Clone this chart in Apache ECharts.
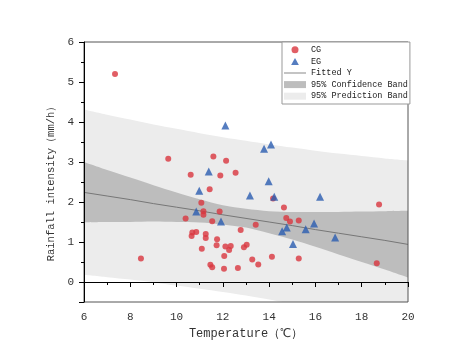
<!DOCTYPE html>
<html><head><meta charset="utf-8">
<script src="https://cdn.jsdelivr.net/npm/echarts@6/dist/echarts.min.js"></script>
<style>html,body{margin:0;padding:0;background:#fff}#c{width:474px;height:362px}</style>
</head><body><div id="c"></div>
<script>
// CG group (red circles)
const cgX = [7.34, 9.64, 11.59, 12.14, 10.61, 11.89, 12.55, 11.43, 11.07, 11.16, 11.16, 11.86, 10.39, 11.54, 12.77, 10.68, 10.85, 10.65, 11.26, 11.26, 11.75, 11.73, 12.11, 12.34, 12.27, 11.09, 12.91, 13.03, 12.06, 8.46, 11.46, 11.54, 12.05, 12.65, 14.17, 18.75, 14.64, 14.74, 14.90, 15.28, 13.42, 13.27, 13.53, 14.12, 15.28, 18.65];
const cgY = [5.20, 3.08, 3.14, 3.03, 2.68, 2.66, 2.73, 2.32, 1.98, 1.77, 1.68, 1.76, 1.59, 1.52, 1.30, 1.24, 1.25, 1.15, 1.20, 1.10, 1.07, 0.92, 0.89, 0.90, 0.80, 0.83, 0.87, 0.93, 0.65, 0.59, 0.43, 0.37, 0.33, 0.35, 2.09, 1.94, 1.86, 1.60, 1.51, 1.54, 1.43, 0.56, 0.44, 0.63, 0.59, 0.47];
// EG group (blue triangles)
const egX = [12.11, 13.78, 14.08, 11.39, 10.98, 13.98, 13.17, 14.22, 16.20, 10.85, 11.92, 15.94, 14.76, 15.58, 14.56, 16.85, 15.03];
const egY = [3.91, 3.33, 3.44, 2.76, 2.28, 2.52, 2.16, 2.13, 2.13, 1.76, 1.51, 1.46, 1.36, 1.32, 1.27, 1.11, 0.95];
// Fit and bands, read at each integer temperature
const bandX = [6, 7, 8, 9, 10, 11, 12, 13, 14, 15, 16, 17, 18, 19, 20];
const fitY = [2.24, 2.15, 2.06, 1.96, 1.87, 1.78, 1.68, 1.59, 1.50, 1.41, 1.31, 1.22, 1.13, 1.04, 0.94];
const confUpper = [3.00, 2.80, 2.61, 2.42, 2.24, 2.07, 1.92, 1.83, 1.77, 1.75, 1.75, 1.75, 1.76, 1.77, 1.78];
const confLower = [1.49, 1.50, 1.50, 1.51, 1.50, 1.49, 1.44, 1.36, 1.22, 1.06, 0.88, 0.69, 0.50, 0.31, 0.11];
const predUpper = [4.31, 4.18, 4.06, 3.94, 3.83, 3.72, 3.62, 3.53, 3.44, 3.36, 3.28, 3.21, 3.15, 3.09, 3.04];
const predLower = [0.18, 0.12, 0.06, -0.01, -0.09, -0.17, -0.25, -0.34, -0.44, -0.55, -0.66, -0.77, -0.89, -1.02, -1.15];

const FONT = 'Liberation Mono';
const PRED = '#ececec', CONF = '#bdbdbd';
const pairs = (xs, ys) => xs.map((x, i) => [x, ys[i]]);
const fill = (name, ys, color, z) => ({
  name, type: 'line', data: pairs(bandX, ys), symbol: 'none', smooth: 0.3, silent: true, z,
  lineStyle: {opacity: 0}, itemStyle: {color},
  areaStyle: {color, opacity: 1, origin: 'start'}
});

const chart = echarts.init(document.getElementById('c'), null, {renderer: 'canvas'});
chart.setOption({
  animation: false,
  backgroundColor: '#fff',
  grid: {left: 84, right: 66, top: 42, bottom: 60, show: true, z: 9, borderColor: '#555', borderWidth: 1, backgroundColor: 'transparent'},
  legend: {
    orient: 'vertical', left: 282, top: 42, z: 12,
    padding: [2, 2, 2, 2], itemGap: 0, itemWidth: 22, itemHeight: 7, symbolKeepAspect: true,
    backgroundColor: '#fff', borderColor: '#999', borderWidth: 1,
    textStyle: {fontFamily: FONT, fontSize: 8.5, color: '#222', lineHeight: 11.6},
    data: [
      {name: 'CG', icon: 'circle', itemStyle: {color: '#d9363e'}},
      {name: 'EG', icon: 'path://M5,0 L10,9 L0,9 Z', itemStyle: {color: '#2a5db0'}},
      {name: 'Fitted Y', icon: 'path://M0,0 L22,0 L22,1 L0,1 Z', itemStyle: {color: '#888'}},
      {name: '95% Confidence Band', icon: 'rect', itemStyle: {color: CONF}},
      {name: '95% Prediction Band', icon: 'rect', itemStyle: {color: PRED}}
    ]
  },
  xAxis: {
    type: 'value', min: 6, max: 20, interval: 2, z: 10,
    name: 'Temperature（℃）', nameLocation: 'middle', nameGap: 22,
    nameTextStyle: {fontFamily: FONT, fontSize: 12, color: '#333'},
    axisLine: {lineStyle: {color: '#000', width: 1}},
    axisTick: {length: 5, lineStyle: {color: '#000'}},
    minorTick: {show: true, splitNumber: 2, length: 3, lineStyle: {color: '#000'}},
    axisLabel: {fontFamily: FONT, fontSize: 11, color: '#333', margin: 10},
    splitLine: {show: false}
  },
  yAxis: [{
    type: 'value', min: -0.5, max: 6, splitNumber: 6, position: 'left', z: 10,
    name: 'Rainfall intensity（mm/h）', nameLocation: 'middle', nameGap: 21,
    nameTextStyle: {fontFamily: FONT, fontSize: 10.5, color: '#333', padding: [0, 18, 0, 0]},
    axisLine: {lineStyle: {color: '#000', width: 1}},
    axisTick: {length: 5, lineStyle: {color: '#000'}},
    axisLabel: {fontFamily: FONT, fontSize: 11, color: '#333', margin: 10,
      formatter: v => (Math.abs(v - Math.round(v)) < 1e-6 ? String(Math.round(v)) : '')},
    splitLine: {show: false}
  }, {
    type: 'value', min: -0.5, max: 6, interval: 0.5, position: 'left', z: 10,
    axisLine: {show: false},
    axisTick: {length: 3, lineStyle: {color: '#000'}},
    axisLabel: {show: false},
    splitLine: {show: false}
  }],
  series: [
    fill('95% Prediction Band', predUpper, PRED, 1),
    fill('95% Confidence Band', confUpper, CONF, 2),
    fill('confLowerFill', confLower, PRED, 3),
    fill('predLowerFill', predLower, '#ffffff', 4),
    {name: 'Fitted Y', type: 'line', data: pairs(bandX, fitY), symbol: 'none', z: 6,
     lineStyle: {color: '#777', width: 1}, itemStyle: {color: '#777'}},
    {name: 'CG', type: 'scatter', data: pairs(cgX, cgY), symbol: 'circle', symbolSize: 6,
     itemStyle: {color: '#d9363e'}, z: 7},
    {name: 'EG', type: 'scatter', data: pairs(egX, egY), symbol: 'triangle', symbolSize: 8,
     itemStyle: {color: '#2a5db0'}, z: 7}
  ]
});
</script></body></html>
